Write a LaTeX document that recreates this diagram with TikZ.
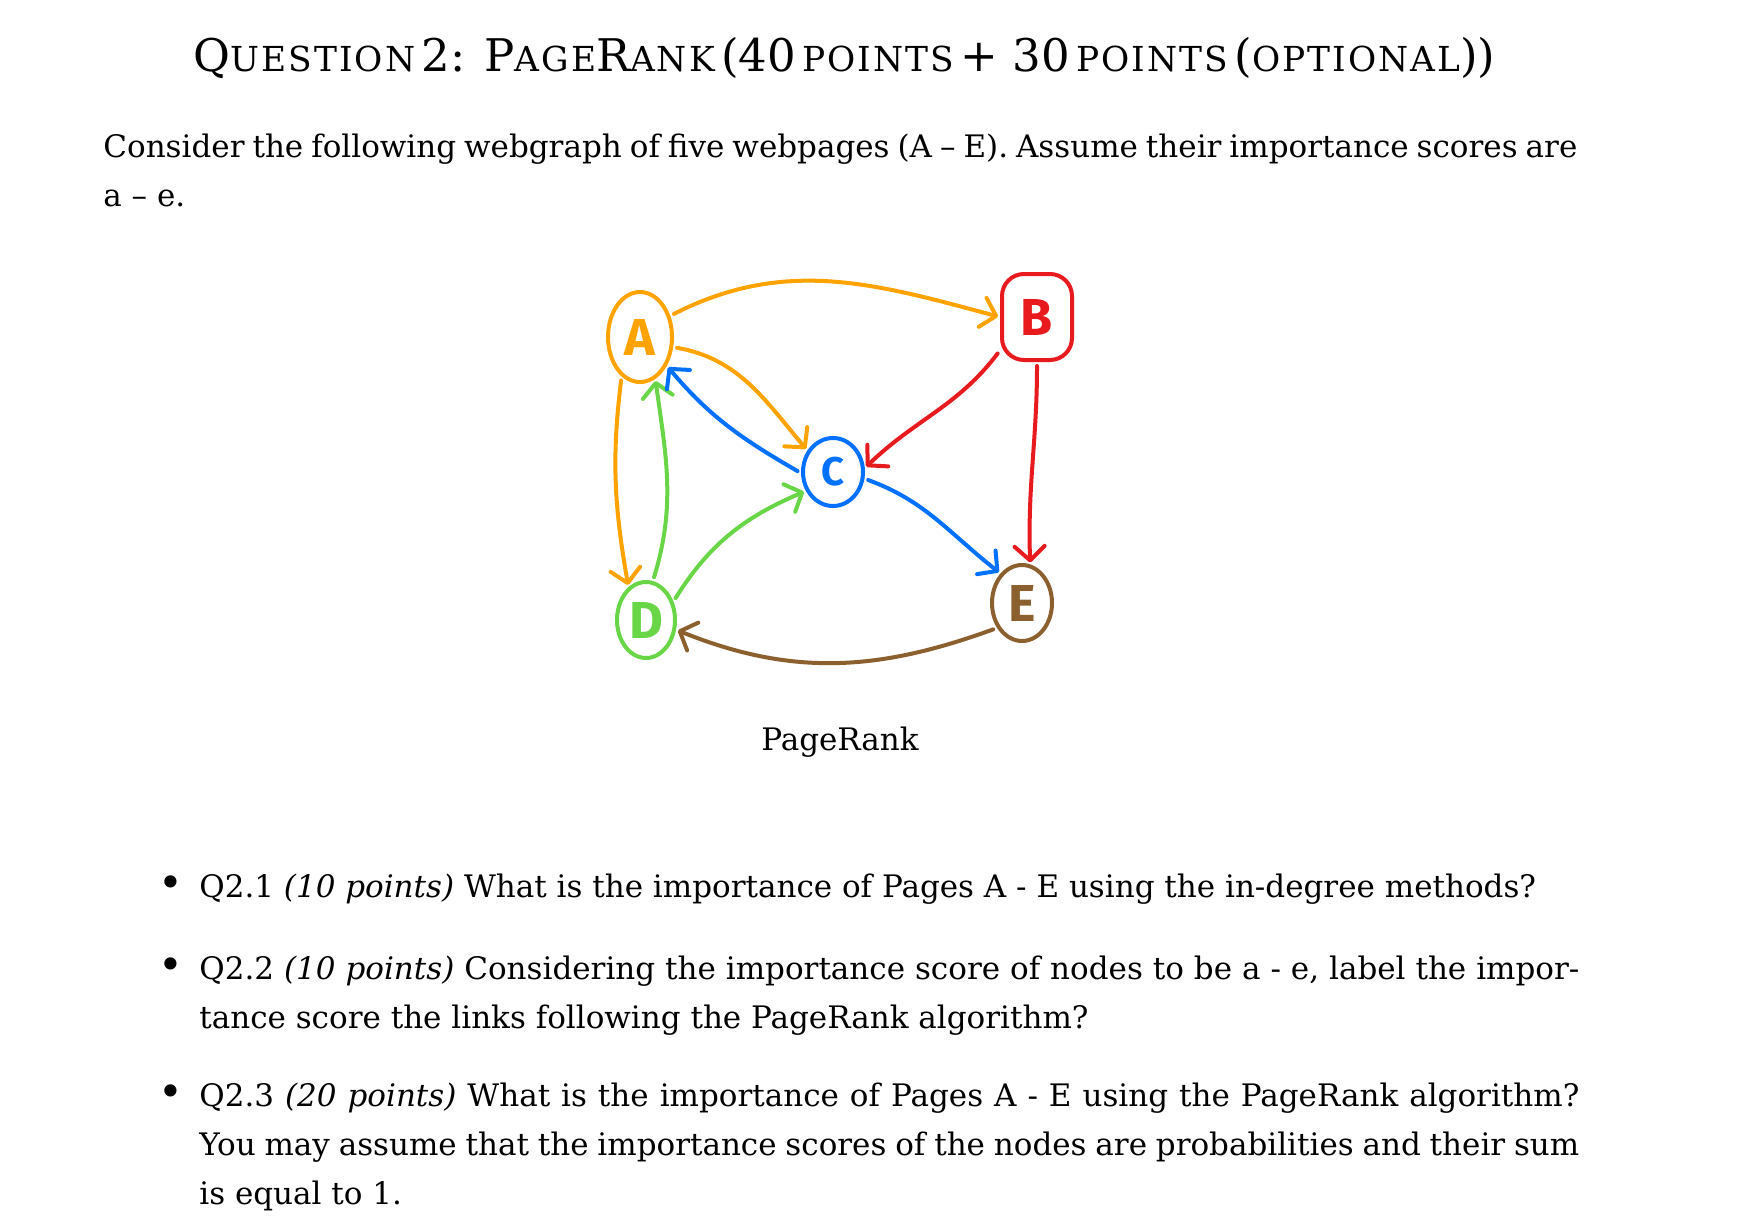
\documentclass[tikz,border=0pt]{standalone}
\usepackage{fontspec}
\setmainfont{DejaVu Serif}
\newfontfamily\handfont{Fira Sans}
\usepackage{tikz}
\usetikzlibrary{arrows.meta, shapes, shapes.geometric, positioning}
\definecolor{page-a}{RGB}{255,163,0}
\definecolor{page-b}{RGB}{232,26,30}
\definecolor{page-c}{RGB}{0,112,255}
\definecolor{page-d}{RGB}{104,214,70}
\definecolor{page-e}{RGB}{140,96,46}
\tikzstyle{webpage} = [ellipse, draw, line width=2pt, inner sep=0pt, font=\handfont\bfseries\fontsize{26}{26}\selectfont]
\tikzstyle{weblink} = [line width=2pt, line cap=round, shorten <=2pt, shorten >=1pt, -{Straight Barb[round, length=7pt, width=15pt]}]
\tikzstyle{bodytext} = [inner sep=0pt, align=justify, font=\fontsize{15.5}{24.5}\selectfont]
\newcommand{\tcap}[1]{{\fontsize{22.5}{24}\selectfont #1}}
\newcommand{\tsc}[1]{{\fontsize{17.2}{24}\selectfont\addfontfeature{LetterSpace=6}#1}}

\begin{document}
\begin{tikzpicture}[x=0.5pt, y=0.5pt]
    \useasboundingbox (0,0) rectangle (1760,-1230);

    \node[inner sep=0pt, anchor=base west] at (193,-72) (title) {\tcap{Q}\tsc{UESTION} \tcap{2: P}\tsc{AGE}\tcap{R}\tsc{ANK} \tcap{(40} \tsc{POINTS} \tcap{+ 30} \tsc{POINTS} \tcap{(}\tsc{OPTIONAL}\tcap{))}};
    \node[bodytext, anchor=base west, text width=737pt] at (103,-158) (intro) {Consider the following webgraph of five webpages (A -- E). Assume their importance scores are\linebreak a -- e.};

    \node[webpage, page-a, minimum width=32pt, minimum height=45pt] at (640,-337) (A) {A};
    \node[webpage, page-b, rectangle, rounded corners=11pt, minimum width=35pt, minimum height=43pt] at (1037,-317) (B) {B};
    \node[webpage, page-c, minimum width=30pt, minimum height=34pt, font=\handfont\bfseries\fontsize{20}{20}\selectfont] at (833,-472) (C) {C};
    \node[webpage, page-d, minimum width=29pt, minimum height=38pt] at (646,-620) (D) {D};
    \node[webpage, page-e, minimum width=30pt, minimum height=38pt] at (1022,-603) (E) {E};

        \draw[weblink, page-a] (A.35) to[out=27, in=165] (B.west);
        \draw[weblink, page-a] (A.-17) to[out=-10, in=130] (C.140);
        \draw[weblink, page-a] (A.-115) to[out=-97, in=100] (D.118);
        \draw[weblink, page-d] (D.80) to[out=73, in=-82] (A.-70);
        \draw[weblink, page-c] (C.182) to[out=150, in=-50] (A.-47);
        \draw[weblink, page-d] (D.34) to[out=58, in=203] (C.215);
        \draw[weblink, page-b] (B.222) to[out=233, in=44] (C.7);
        \draw[weblink, page-b] (B.south) to[out=-90, in=92] (E.78);
        \draw[weblink, page-c] (C.-12) to[out=-20, in=142] (E.126);
        \draw[weblink, page-e] (E.225) to[out=200, in=-22] (D.-18);

    \node[bodytext, anchor=base] at (840,-750) (caption) {PageRank};

    \node[bodytext, anchor=base, font=\fontsize{21}{24}\selectfont] at (171,-897) (dot1) {\textbullet};
    \node[bodytext, anchor=base west, text width=690pt] at (199,-897) (q1) {Q2.1 \textit{(10 points)} What is the importance of Pages A - E using the in-degree methods?};
    \node[bodytext, anchor=base, font=\fontsize{21}{24}\selectfont] at (171,-979) (dot2) {\textbullet};
    \node[bodytext, anchor=base west, text width=690pt] at (199,-979) (q2) {Q2.2 \textit{(10 points)} Considering the importance score of nodes to be a - e, label the impor-\linebreak tance score the links following the PageRank algorithm?};
    \node[bodytext, anchor=base, font=\fontsize{21}{24}\selectfont] at (171,-1106) (dot3) {\textbullet};
    \node[bodytext, anchor=base west, text width=690pt] at (199,-1106) (q3) {Q2.3 \textit{(20 points)} What is the importance of Pages A - E using the PageRank algorithm?\linebreak You may assume that the importance scores of the nodes are probabilities and their sum\linebreak is equal to 1.};
\end{tikzpicture}
\end{document}
